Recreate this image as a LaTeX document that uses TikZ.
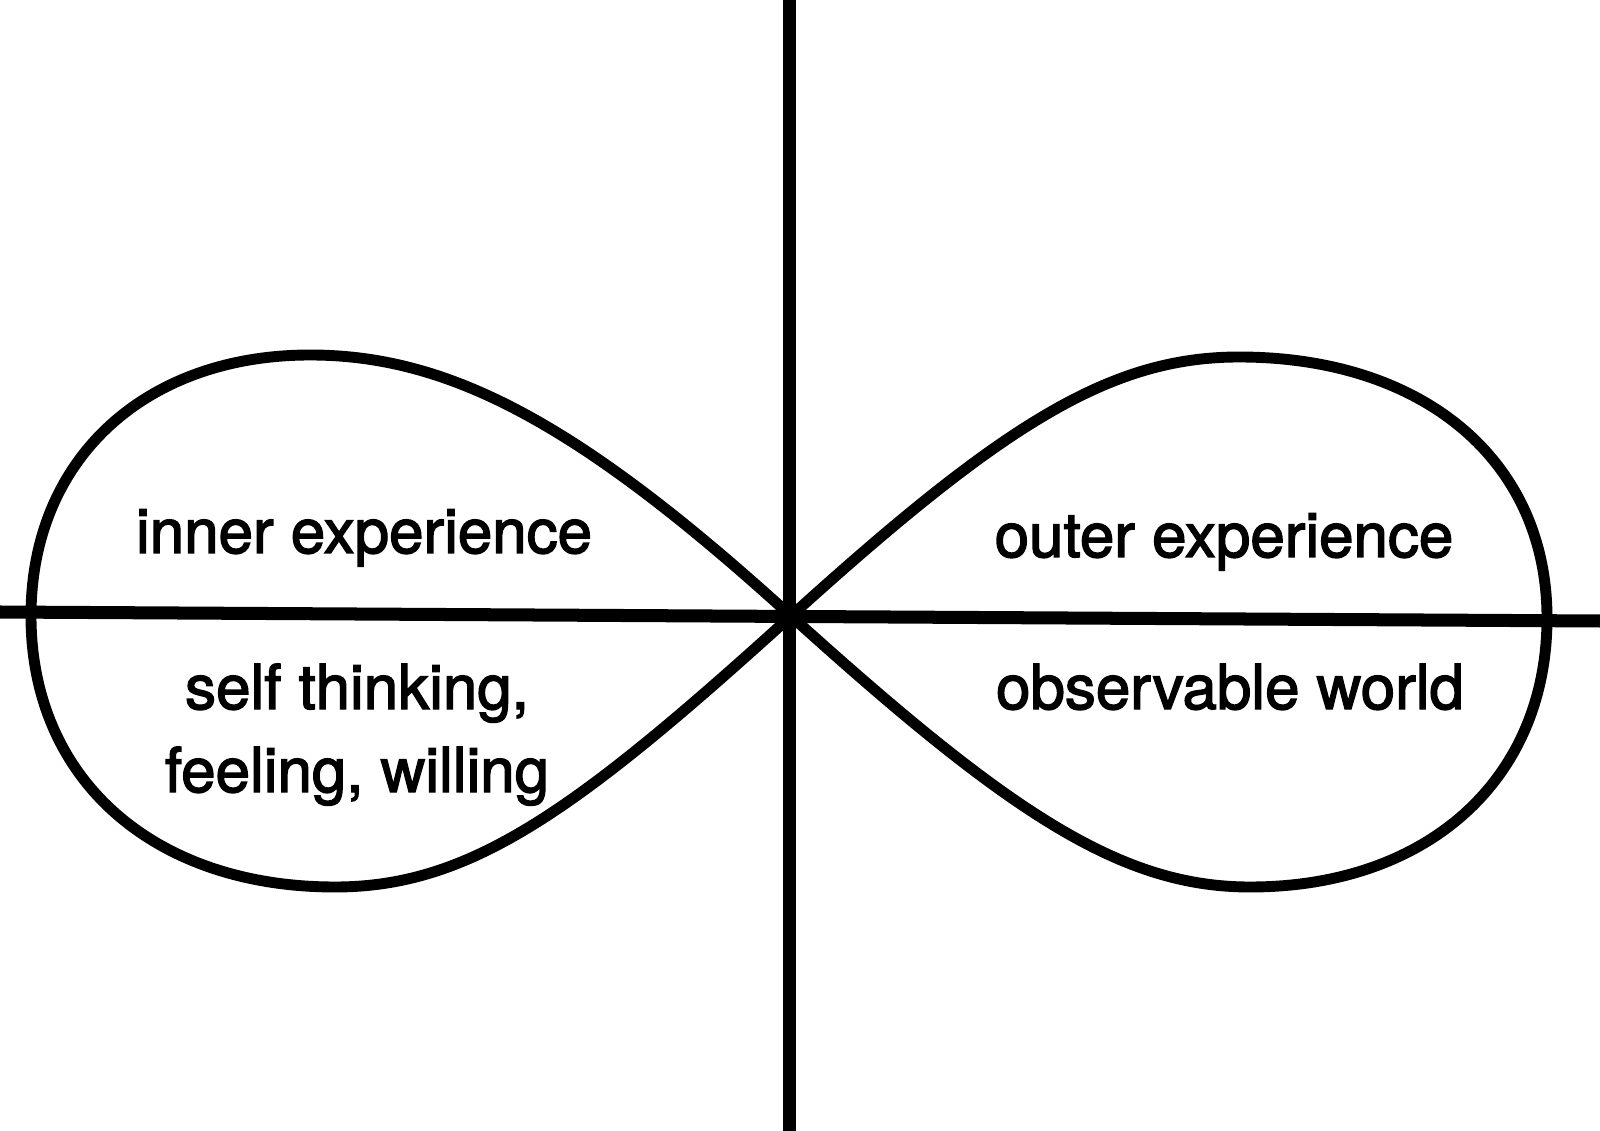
\documentclass[tikz,border=0pt]{standalone}
\usepackage{fontspec}
\newfontfamily\lblfont{TeX Gyre Heros}
\newcommand{\heavy}[1]{\special{pdf:literal 2 Tr 0.4 w}#1\special{pdf:literal 0 Tr}}
\usepackage{tikz}
\usetikzlibrary{calc, positioning}

\begin{document}
\begin{tikzpicture}[x=0.01cm, y=-0.01cm, axis/.style={line width=3.7pt}, loop/.style={line width=3.1pt, line join=round}, lbl/.style={anchor=base, inner sep=0pt, font=\lblfont\fontsize{17.6}{21}\selectfont}]
  \useasboundingbox (0,0) rectangle (1600,1131);

  \coordinate (top) at (789,0);
  \coordinate (bot) at (789,1131);
  \coordinate (west) at (0,612);
  \coordinate (east) at (1600,621);
  \coordinate (c) at (791,616);

  \coordinate (lt) at (310,355);
  \coordinate (lw) at (31,616);
  \coordinate (lb) at (335,887);
  \coordinate (rt) at (1239,357);
  \coordinate (re) at (1547,618);
  \coordinate (rb) at (1250,887);

  \draw[axis] (top) -- (bot);
  \draw[axis] (west) -- (east);

  % the figure eight
  \draw[loop] (c) .. controls (580,424) and (450,355) .. (lt)
    .. controls (145,355) and (31,459) .. (lw)
    .. controls (31,779) and (153,887) .. (lb)
    .. controls (470,887) and (575,812) .. (c)
    .. controls (1003,424) and (1110,357) .. (rt)
    .. controls (1424,357) and (1547,461) .. (re)
    .. controls (1547,779) and (1428,887) .. (rb)
    .. controls (1120,887) and (1008,812) .. (c) -- cycle;

  \node[lbl] (inner) at (364,553) {\heavy{inner experience}};
  \node[lbl] (self) at (357,709) {\heavy{self thinking,}};
  \node[lbl] (feel) at (357,792) {\heavy{feeling, willing}};
  \node[lbl] (outer) at (1224,557) {\heavy{outer experience}};
  \node[lbl] (world) at (1230,709) {\heavy{observable world}};
\end{tikzpicture}
\end{document}
